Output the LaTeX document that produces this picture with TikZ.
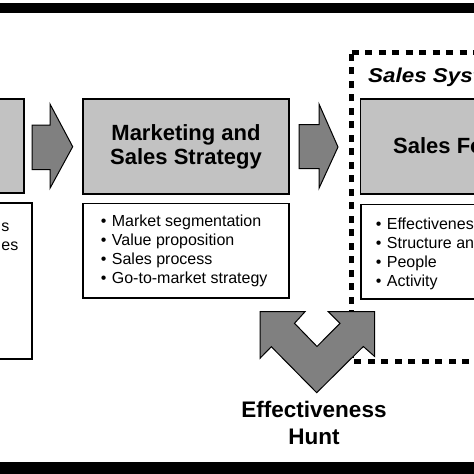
\documentclass[tikz,border=0pt]{standalone}
\usepackage{fontspec}
\setmainfont{Liberation Sans}
\definecolor{boxgrey}{gray}{0.76}
\definecolor{arrowgrey}{gray}{0.5}
\newcommand{\rowsep}{19}

\begin{document}
\begin{tikzpicture}[x=1pt, y=-1pt,
  stage/.style={line width=1.6pt, draw, fill=boxgrey},
  listbox/.style={line width=1.6pt, draw, fill=white},
  blockarrow/.style={line width=1pt, draw, fill=arrowgrey, line join=miter},
  system/.style={line width=5pt, draw, dash pattern=on 7pt off 6.5pt},
  band/.style={fill=black},
  title/.style={font=\fontsize{22}{23.5}\selectfont\bfseries, align=center, inner sep=0pt},
  item/.style={font=\fontsize{16}{19}\selectfont, inner sep=0pt}]
  \useasboundingbox (0,0) rectangle (474,474);
  \clip (0,0) rectangle (474,474);
  \fill[white] (0,0) rectangle (474,474);
  \fill[band] (-5,2.5) rectangle (480,12.5);
  \fill[band] (-5,461.7) rectangle (480,480);

  % left stage (cut off)
  \draw[stage] (-120,99) rectangle (24,193);
  \draw[listbox] (-120,203) rectangle (32,359);
  \node[item, anchor=base east] (lfa) at (9.5,231.7) {s};
  \node[item, anchor=base east] (lfb) at (18.5,250.4) {es};
  \draw[blockarrow] (32,125) -- (50,125) -- (50,104) -- (72.7,146.7)
    -- (50,188.3) -- (50,169.5) -- (32,169.5) -- cycle;

  % marketing and sales strategy
  \draw[stage] (83,99) rectangle (289,194);
  \node[title] (mkt) at (186,147) {Marketing and\\Sales Strategy};
  \draw[listbox] (83,203.5) rectangle (289,298);
  \foreach \t [count=\i] in {Market segmentation, Value proposition,
      Sales process, Go-to-market strategy}
    \node[item, anchor=base west] (mkt\i) at (111.7,207.7+\rowsep*\i)
      {\llap{\textbullet\hspace{5.5pt}}\t};
  \draw[blockarrow] (299,124.5) -- (319,124.5) -- (319,104) -- (338,147)
    -- (319,188.3) -- (319,168.5) -- (299,168.5) -- cycle;

  % sales system
  \draw[system] (351.5,52.5) -- (600,52.5) -- (600,361.5) -- (351.5,361.5) -- cycle;
  \node[font=\fontsize{20}{22}\selectfont\bfseries\itshape\addfontfeature{FakeStretch=1.12},
    anchor=base west, inner sep=0pt] (sys) at (368,82.3) {Sales System};
  \draw[stage] (360.5,99) rectangle (600,194);
  \node[title, anchor=base west] (force) at (393,153.3) {Sales Force};
  \draw[listbox] (361,204.5) rectangle (600,299);
  \foreach \t [count=\i] in {Effectiveness, Structure and, People, Activity}
    \node[item, anchor=base west] (frc\i) at (386.7,210.3+\rowsep*\i)
      {\llap{\textbullet\hspace{5.5pt}}\t};

  % effectiveness hunt
  \draw[blockarrow] (260,311.7) -- (305,311.7) -- (294.5,323.3) -- (317,346.5)
    -- (340,323.3) -- (328.3,311.7) -- (374.7,311.7) -- (374.7,356.5)
    -- (363.3,346.5) -- (316.7,392.7) -- (271.3,346.7) -- (260,358.3) -- cycle;
  \node[title, font=\fontsize{22.5}{27}\selectfont\bfseries] (hunt) at (314,422.5)
    {Effectiveness\\Hunt};
\end{tikzpicture}
\end{document}
